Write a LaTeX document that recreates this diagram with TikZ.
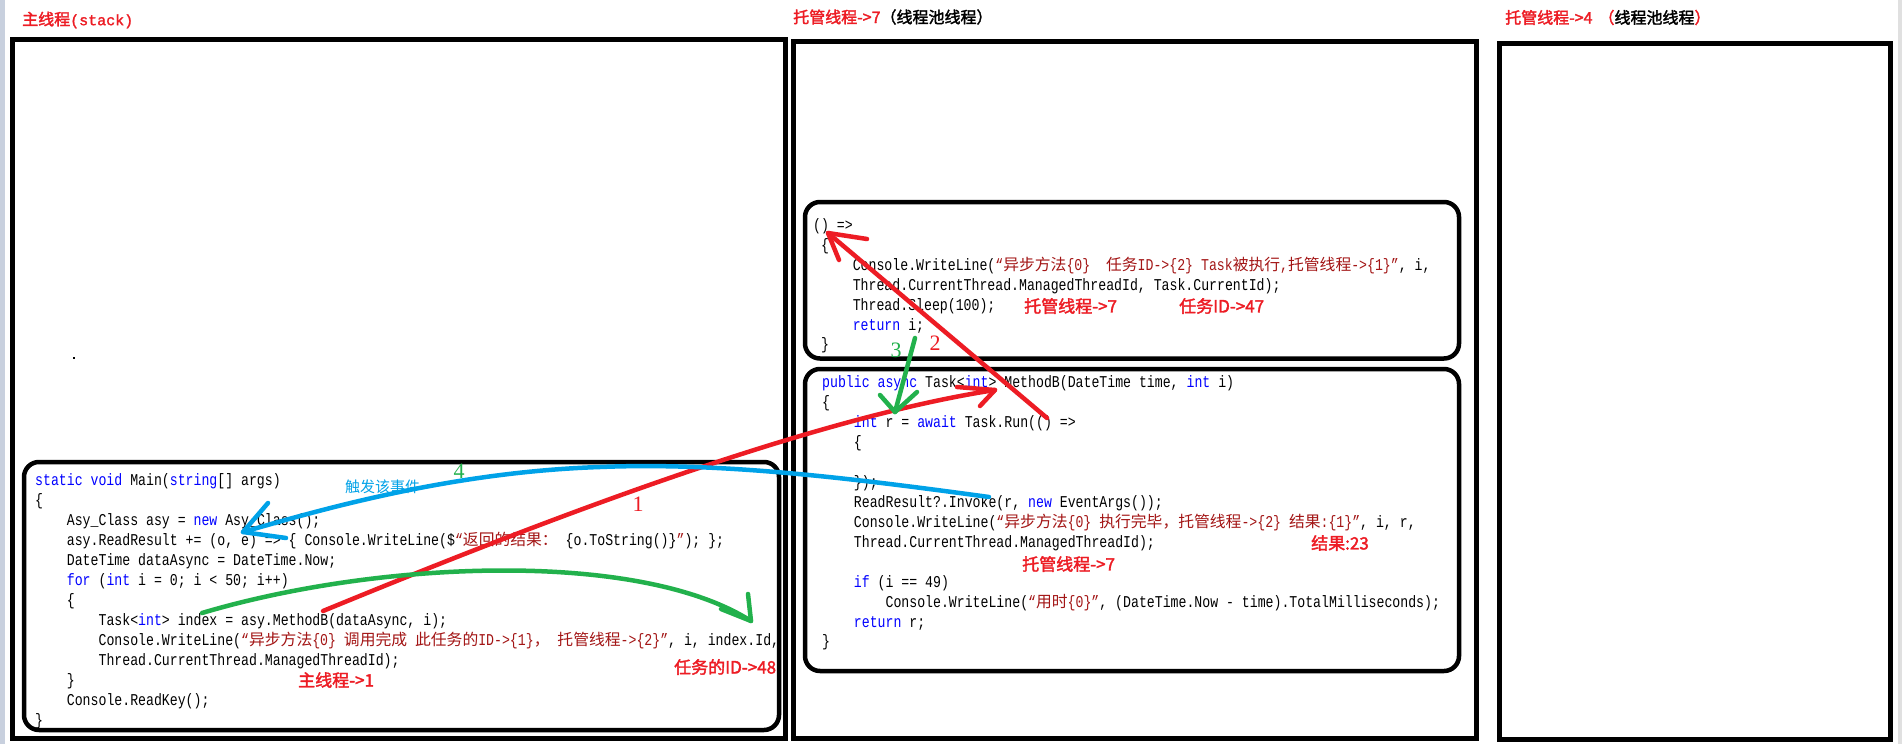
\documentclass[tikz,border=0pt]{standalone}
\usepackage{fontspec}
\newfontfamily\codefont{Liberation Mono}[FakeStretch=0.8,WordSpace={1,0,0}]
\newfontfamily\cjkfont{Noto Sans CJK SC}
\newfontfamily\cjkbold{Noto Sans CJK SC}[FakeBold=2]
\newfontfamily\titlemono{Liberation Mono}[FakeBold=1.5]
\newfontfamily\numfont{Liberation Serif}
\definecolor{annred}{RGB}{237,28,36}
\definecolor{strred}{RGB}{163,21,21}
\definecolor{kwblue}{RGB}{0,0,255}
\definecolor{arrblue}{RGB}{0,162,232}
\definecolor{arrgreen}{RGB}{34,177,76}
\definecolor{edgegray}{RGB}{200,208,222}
\newcommand\ckw[1]{\textcolor{kwblue}{#1}}
\newcommand\cstr[1]{\textcolor{strred}{#1}}
\newcommand\czh[1]{{\cjkfont\fontsize{15.8}{20}\selectfont #1}}
\tikzset{
  panel/.style={draw=black, line width=5pt, inner sep=0, fill=none},
  codebox/.style={draw=black, line width=4.5pt, rounded corners=15pt, inner sep=0},
  codeline/.style={anchor=base west, inner sep=0, font=\codefont\fontsize{16.5}{20}\selectfont},
  anno/.style={anchor=west, inner sep=0, text=annred, font=\cjkbold\fontsize{17}{17}\selectfont},
  titletext/.style={anchor=west, inner sep=0, font=\cjkbold\fontsize{16}{16}\selectfont},
  bluelabel/.style={anchor=west, inner sep=0, text=arrblue, font=\cjkfont\fontsize{15}{15}\selectfont},
  numlabel/.style={inner sep=0, font=\numfont\fontsize{22}{22}\selectfont},
  stroke/.style={line width=4.5pt, line cap=round, line join=round},
}
\begin{document}
\begin{tikzpicture}[x=1pt,y=-1pt]
\useasboundingbox (0,0) rectangle (1902,744);
\fill[white] (0,0) rectangle (1902,744);
\fill[edgegray] (0,0) rectangle (4.5,744);
\fill[black!12] (1898,0) rectangle (1902,744);

% titles
\node[titletext] (t1) at (22,20) {\textcolor{annred}{主线程{\titlemono\fontsize{15}{15}\selectfont(stack)}}};
\node[titletext] (t2) at (793,17) {\textcolor{annred}{托管线程->7}（线程池线程）};
\node[titletext] (t3) at (1505,17.5) {\textcolor{annred}{托管线程->4\hspace{6pt}（}线程池线程\textcolor{annred}{）}};

% panels
\node[panel, minimum width=772.5pt, minimum height=698.5pt] (p1) at (398.75,388.75) {};
\node[panel, minimum width=683pt, minimum height=697pt] (p2) at (1134.5,389.5) {};
\node[panel, minimum width=391pt, minimum height=696pt] (p3) at (1695,391) {};

% tiny dot
\fill (73,357) rectangle (75,359);

% code boxes
\node[codebox, minimum width=755pt, minimum height=268pt] (mainbox) at (401.5,596) {};
\node[codebox, minimum width=654pt, minimum height=156.5pt] (lambdabox) at (1132,280.25) {};
\node[codebox, minimum width=654pt, minimum height=302pt] (methodbox) at (1132,520) {};

% main code
\node[codeline] (m0) at (35,485) {\ckw{static void} Main(\ckw{string}[] args)};
\node[codeline] (m1) at (35,505) {\{};
\node[codeline] (m2) at (66.7,525) {Asy\_Class asy = \ckw{new} Asy\_Class();};
\node[codeline] (m3) at (66.7,545) {asy.ReadResult += (o, e) => \{ Console.WriteLine(\$\cstr{“\czh{返回的结果：}} \{o.ToString()\}\cstr{”}); \};};
\node[codeline] (m4) at (66.7,565) {DateTime dataAsync = DateTime.Now;};
\node[codeline] (m5) at (66.7,585) {\ckw{for} (\ckw{int} i = 0; i < 50; i++)};
\node[codeline] (m6) at (66.7,605) {\{};
\node[codeline] (m7) at (98.4,625) {Task<\ckw{int}> index = asy.MethodB(dataAsync, i);};
\node[codeline] (m8) at (98.4,645) {Console.WriteLine(\cstr{“\czh{异步方法}\{0\} \czh{调用完成} \czh{此任务的}ID->\{1\}\czh{，} \czh{托管线程}->\{2\}”}, i, index.Id,};
\node[codeline] (m9) at (98.4,665) {Thread.CurrentThread.ManagedThreadId);};
\node[codeline] (m10) at (66.7,685) {\}};
\node[codeline] (m11) at (66.7,705) {Console.ReadKey();};
\node[codeline] (m12) at (35,725) {\}};

% lambda code
\node[codeline] (l0) at (813,230) {() =>};
\node[codeline] (l1) at (820.9,250) {\{};
\node[codeline] (l2) at (852.6,270) {Console.WriteLine(\cstr{“\czh{异步方法}\{0\}\ \ \czh{任务}ID->\{2\} Task\czh{被执行},\czh{托管线程}->\{1\}”}, i,};
\node[codeline] (l3) at (852.6,290) {Thread.CurrentThread.ManagedThreadId, Task.CurrentId);};
\node[codeline] (l4) at (852.6,310) {Thread.Sleep(100);};
\node[codeline] (l5) at (852.6,330) {\ckw{return} i;};
\node[codeline] (l6) at (820.9,349) {\}};

% MethodB code
\node[codeline] (b0) at (822,387) {\ckw{public async} Task<\ckw{int}> MethodB(DateTime time, \ckw{int} i)};
\node[codeline] (b1) at (822,407) {\{};
\node[codeline] (b2) at (853.7,427) {\ckw{int} r = \ckw{await} Task.Run(() =>};
\node[codeline] (b3) at (853.7,447) {\{};
\node[codeline] (b5) at (853.7,487) {\});};
\node[codeline] (b6) at (853.7,507) {ReadResult?.Invoke(r, \ckw{new} EventArgs());};
\node[codeline] (b7) at (853.7,527) {Console.WriteLine(\cstr{“\czh{异步方法}\{0\} \czh{执行完毕，托管线程}->\{2\} \czh{结果}:\{1\}”}, i, r,};
\node[codeline] (b8) at (853.7,547) {Thread.CurrentThread.ManagedThreadId);};
\node[codeline] (b10) at (853.7,587) {\ckw{if} (i == 49)};
\node[codeline] (b11) at (885.4,607) {Console.WriteLine(\cstr{“\czh{用时}\{0\}”}, (DateTime.Now - time).TotalMilliseconds);};
\node[codeline] (b12) at (853.7,627) {\ckw{return} r;};
\node[codeline] (b13) at (822,646) {\}};

% red annotations
\node[anno] (a1) at (298,680) {主线程->1};
\node[anno] (a2) at (674,667) {任务的ID->48};
\node[anno] (a3) at (1024,306) {托管线程->7};
\node[anno] (a4) at (1179,306) {任务ID->47};
\node[anno] (a5) at (1311,543) {结果:23};
\node[anno] (a6) at (1022,564) {托管线程->7};
\node[bluelabel] (ev) at (345,487) {触发该事件};

% number labels
\node[numlabel, text=annred] (n1) at (638,504) {1};
\node[numlabel, text=annred] (n2) at (935,343) {2};
\node[numlabel, text=arrgreen] (n3) at (896,350) {3};
\node[numlabel, text=arrgreen] (n4) at (459,471) {4};

% arrows
\coordinate (r1s) at (323,611);
\coordinate (r1t) at (995,390);
\coordinate (r1a) at (957,387);
\coordinate (r1b) at (980,406);
\draw[stroke, annred] (r1s) .. controls (520,530) and (800,420) .. (r1t);
\draw[stroke, annred] (r1a) -- (r1t) -- (r1b);

\coordinate (r2s) at (1047,418);
\coordinate (r2t) at (828,233);
\coordinate (r2a) at (867,239);
\coordinate (r2b) at (839,260);
\draw[stroke, annred] (r2s) -- (r2t);
\draw[stroke, annred] (r2a) -- (r2t) -- (r2b);

\coordinate (g3s) at (915,338);
\coordinate (g3t) at (895,412);
\coordinate (g3a) at (880,395);
\coordinate (g3b) at (917,392);
\draw[stroke, arrgreen] (g3s) -- (g3t);
\draw[stroke, arrgreen] (g3a) -- (g3t) -- (g3b);

\coordinate (g4s) at (202,613);
\coordinate (g4t) at (751,621);
\coordinate (g4a) at (721,609);
\coordinate (g4b) at (748,594);
\draw[stroke, arrgreen] (g4s) .. controls (380,560) and (640,550) .. (g4t);
\draw[stroke, arrgreen] (g4a) -- (g4t) -- (g4b);

\coordinate (bs) at (989,497);
\coordinate (bm) at (600,467);
\coordinate (bt) at (243,532);
\coordinate (ba) at (268,503);
\coordinate (bb) at (286,538);
\draw[stroke, arrblue] (bs) .. controls (850,478) and (720,462) .. (bm) .. controls (450,472) and (320,510) .. (bt);
\draw[stroke, arrblue] (ba) -- (bt) -- (bb);
\end{tikzpicture}
\end{document}
